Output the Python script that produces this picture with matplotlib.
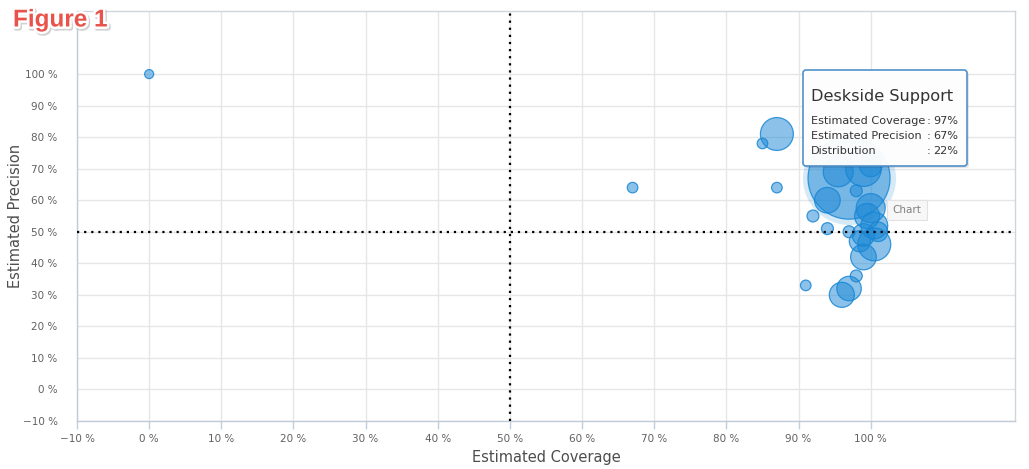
import matplotlib.pyplot as plt
import matplotlib.patheffects as pe
from matplotlib.patches import FancyBboxPatch, Rectangle
from matplotlib.colors import to_rgba
import numpy as np

# bubble data: estimated coverage (%), estimated precision (%), distribution (%)
coverage = [0, 67, 85, 87, 87, 92, 94, 97, 91, 98, 97, 94, 95.5, 99, 100, 98,
            100, 99.5, 100.5, 99, 100.5, 99, 101, 98.5, 96, 97]
precision = [100, 64, 78, 81, 64, 55, 51, 50, 33, 36, 67, 60, 69, 70, 71, 63,
             57.5, 55, 52, 49, 46, 42, 50, 47, 30, 32]
distribution = [0.1, 0.2, 0.2, 3.4, 0.2, 0.3, 0.3, 0.3, 0.2, 0.3, 22, 2.0, 2.8, 4.0,
                1.5, 0.3, 2.6, 1.9, 2.2, 1.5, 3.4, 2.0, 1.1, 1.3, 1.9, 1.8]

hover_name = "Deskside Support"
hover_index = 10

x_ticks = [-10, 0, 10, 20, 30, 40, 50, 60, 70, 80, 90, 100]
y_ticks = [-10, 0, 10, 20, 30, 40, 50, 60, 70, 80, 90, 100]

W, H = 1029, 469
fig = plt.figure(figsize=(W / 100, H / 100), dpi=100)
ax = fig.add_axes([77 / W, 1 - 421 / H, (1015 - 77) / W, (421 - 11) / H])

blue = '#1a87d5'
z = np.array(distribution)
# highcharts style bubble sizing by area, diameter in px
min_px, max_px = 9, 82
pos = (z - z.min()) / (z.max() - z.min())
diam = np.sqrt(min_px ** 2 + pos * (max_px ** 2 - min_px ** 2))
sizes = (diam * 0.72) ** 2

ax.grid(True, color='#e6e6e6', lw=1, zorder=0)
ax.set_axisbelow(True)

# hover halo
ax.scatter([coverage[hover_index]], [precision[hover_index]],
           s=((diam[hover_index] + 11) * 0.72) ** 2, color=blue, alpha=0.18,
           lw=0, zorder=2)
ax.scatter(coverage, precision, s=sizes, facecolor=to_rgba(blue, 0.5),
           edgecolor=to_rgba(blue, 0.85), lw=0.9, zorder=3)

ax.axvline(50, color='black', lw=1.6, linestyle=(0, (1, 2.2)), zorder=4)
ax.axhline(50, color='black', lw=1.6, linestyle=(0, (1, 2.2)), zorder=4)

ax.set_xlim(-10, 120)
ax.set_ylim(-10, 120)
ax.set_xticks(x_ticks)
ax.set_yticks(y_ticks)
ax.set_xticklabels([f"{t} %".replace('-', '\u2212') for t in x_ticks])
ax.set_yticklabels([f"{t} %".replace('-', '\u2212') for t in y_ticks])
ax.tick_params(axis='x', length=6, width=1, color='#c0d0e0', labelsize=7.5,
               labelcolor='#606060', pad=3)
ax.tick_params(axis='y', length=0, labelsize=7.5, labelcolor='#606060', pad=14)
for s in ax.spines.values():
    s.set_color('#d0d4dc')
    s.set_linewidth(1)
ax.spines['bottom'].set_color('#c0cad8')
ax.spines['left'].set_color('#c0cad8')

ax.set_xlabel('Estimated Coverage', fontsize=10.5, color='#4d4d4d', labelpad=5)
ax.set_ylabel('Estimated Precision', fontsize=10.5, color='#4d4d4d')
ax.yaxis.set_label_coords((23 - 77) / (1015 - 77), 0.5)

# overlay in pixel coordinates for annotations
ov = fig.add_axes([0, 0, 1, 1])
ov.set_xlim(0, W)
ov.set_ylim(H, 0)
ov.axis('off')
ov.patch.set_alpha(0)

ov.text(13, 20, 'Figure 1', fontsize=17.5, fontweight='bold', color='#e8544b',
        family='Liberation Sans', va='center', ha='left',
        path_effects=[pe.Stroke(linewidth=3.5, foreground='#9a9a9a', alpha=0.45, offset=(1, -1.2)),
                      pe.Stroke(linewidth=3.5, foreground='white'), pe.Normal()])

# tooltip
ov.add_patch(FancyBboxPatch((805, 72), 164, 96, boxstyle='round,pad=0,rounding_size=3',
                            facecolor='#000000', alpha=0.1, lw=0, zorder=5))
ov.add_patch(FancyBboxPatch((803, 70), 164, 96, boxstyle='round,pad=0,rounding_size=3',
                            facecolor='white', alpha=0.96, edgecolor='#4a8cc8', lw=1.2, zorder=6))
ov.text(811, 96, hover_name, fontsize=11.6, color='#333333', va='center', ha='left', zorder=7)
rows = [('Estimated Coverage', coverage[hover_index]),
        ('Estimated Precision', precision[hover_index]),
        ('Distribution', distribution[hover_index])]
for i, (lab, val) in enumerate(rows):
    yy = 121 + i * 15
    ov.text(811, yy, lab, fontsize=8.1, color='#333333', va='center', ha='left', zorder=7)
    ov.text(927, yy, ':', fontsize=8.1, color='#333333', va='center', ha='left', zorder=7)
    ov.text(958, yy, f"{val:g}%", fontsize=8.1, color='#333333', va='center', ha='right', zorder=7)

# browser hint label
ov.add_patch(Rectangle((887, 200), 40, 20, facecolor='#f7f7f7', edgecolor='#e2e2e2', lw=0.8, zorder=5))
ov.text(907, 210, 'Chart', fontsize=7.5, color='#808080', va='center', ha='center', zorder=6)

fig.savefig('out.png', dpi=100)
